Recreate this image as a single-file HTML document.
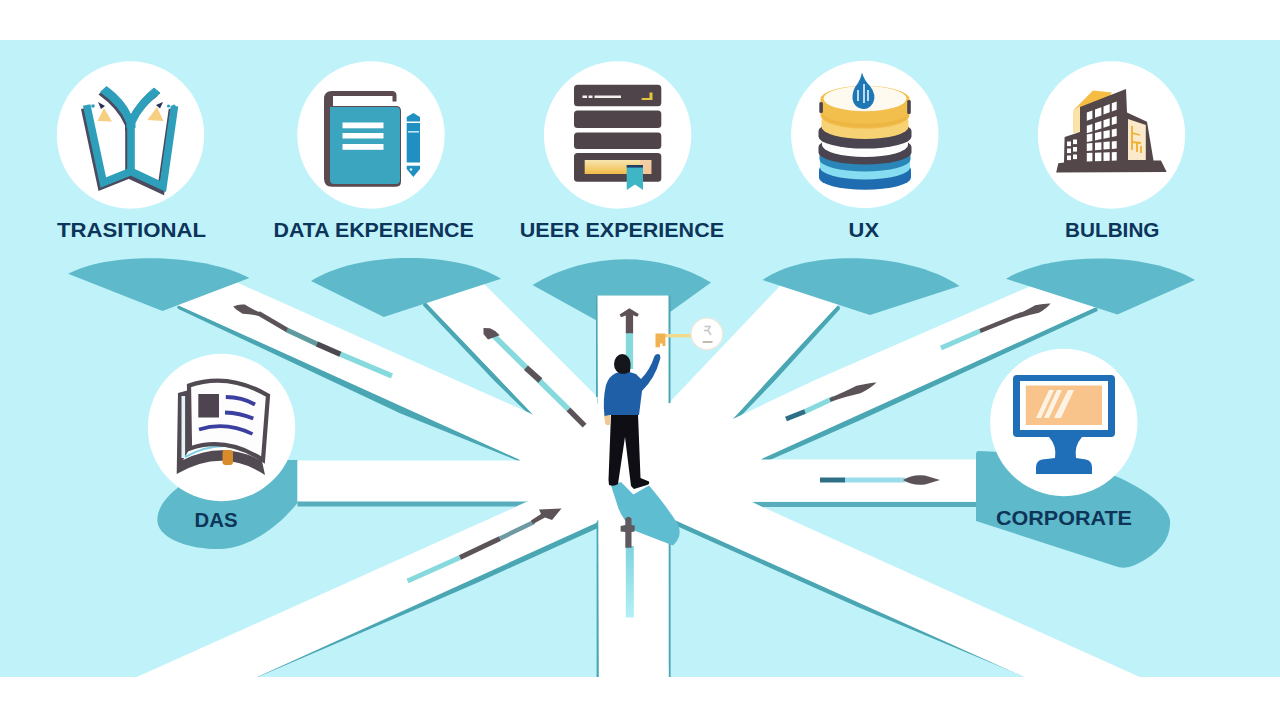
<!DOCTYPE html>
<html lang="en"><head><meta charset="utf-8"><title>Pathways</title>
<style>html,body{margin:0;padding:0;background:#fff;overflow:hidden}svg{display:block}</style></head>
<body>
<svg width="1280" height="720" viewBox="0 0 1280 720">
<rect x="0" y="0" width="1280" height="720" fill="#fff"/>
<rect x="0" y="40" width="1280" height="637" fill="#bff2f9"/>
<path d="M190,480 C168,492 156,508 157.5,522 C160,541 195,550 222,549 C255,546 281,523 297.5,503 L297.5,460 L250,460 Z" fill="#5ebaca"/>
<path d="M979,451 Q976,451 976,454 L976,521 L1115,566 Q1124,570 1135,565 Q1172,548 1170,520 Q1166,500 1120,478 L1100,470 L1000,452 Z" fill="#5ebaca"/>
<polygon points="178.8,305.5 176.8,307.5 179.0,309.3 400.0,413.2 521.0,462.0 519.5,458.0" fill="#49a6b2" />
<polygon points="426.0,302.5 423.5,303.2 423.0,305.5 494.5,381.0 531.5,417.0 534.0,415.0" fill="#49a6b2" />
<polygon points="837.5,305.5 839.5,306.5 840.0,309.0 775.0,380.5 735.0,422.0 732.0,417.0" fill="#49a6b2" />
<polygon points="1095.0,307.5 1097.5,308.5 1097.5,311.0 860.0,420.3 763.0,463.0 760.0,457.0" fill="#49a6b2" />
<polygon points="752.5,502.0 976.0,502.0 976.0,507.0 762.0,507.0" fill="#57adbb" />
<polygon points="297.5,501.0 528.0,501.0 516.0,506.5 297.5,506.5" fill="#57adbb" />
<polygon points="668.8,514.0 668.8,522.5 860.0,608.0 1022.5,676.0 1040.0,676.0" fill="#49a6b2" />
<polygon points="599.5,520.0 599.0,527.5 480.0,581.4 430.0,603.3 259.0,676.4 250.0,676.0" fill="#49a6b2" />
<polygon points="178.8,305.5 173.3,303.0 237.1,282.5 532.8,414.4 633.0,460.0 519.5,459.7" fill="#fff" />
<polygon points="426.0,302.5 421.8,298.2 481.8,281.7 597.3,397.0 633.0,460.0 532.8,414.4" fill="#fff" />
<polygon points="784.1,281.6 841.6,301.1 837.5,305.5 732.9,418.9 633.0,460.0 668.7,403.3" fill="#fff" />
<polygon points="1033.0,285.0 1100.5,305.0 1095.0,307.5 761.0,459.3 633.0,460.0 732.9,418.9 815.0,380.0" fill="#fff" />
<polygon points="976.0,459.5 976.0,501.7 751.4,501.7 633.0,460.0 761.0,459.5" fill="#fff" />
<polygon points="752.5,502.5 1142.0,678.0 1026.5,678.0 668.8,517.5 633.0,460.0" fill="#fff" />
<polygon points="527.6,501.7 134.5,678.0 255.0,678.0 599.5,521.5 633.0,460.0" fill="#fff" />
<polygon points="297.5,460.5 517.5,460.5 633.0,460.0 526.0,501.5 297.5,501.5" fill="#fff" />
<polygon points="532.8,414.4 597.3,397.0 668.7,403.3 732.9,418.9 761.0,459.3 751.4,502.0 668.8,518.0 599.5,521.5 527.6,501.7 519.5,459.7" fill="#fff" />
<path d="M68.1,273.8 C111.6,250.4 205.9,254.5 249.4,277.9 L162.5,311.0 Z" fill="#5ebaca"/>
<path d="M311.0,281.0 C356.6,251.8 455.4,249.6 501.0,278.8 L383.8,317.0 Z" fill="#5ebaca"/>
<path d="M532.5,285 C586,252.4 657.5,250 711,282.5 L668.75,313 L668.75,330 L597.5,330 L597.5,321 Z" fill="#5ebaca"/>
<path d="M762.5,280.0 C809.8,247.3 912.2,253.3 959.5,286.0 L870.0,315.0 Z" fill="#5ebaca"/>
<path d="M1006.0,278.8 C1051.4,250.9 1149.6,252.2 1195.0,280.0 L1117.5,314.5 Z" fill="#5ebaca"/>
<rect x="596" y="295.5" width="74.5" height="108" fill="#49a6b2"/>
<rect x="596.6" y="520" width="74" height="157" fill="#49a6b2"/>
<polygon points="597.5,295.5 668.5,295.5 668.8,678.0 598.8,678.0" fill="#fff" />
<polygon points="590.0,397.0 597.5,397.0 597.5,521.5 590.0,521.5" fill="#fff" />
<polygon points="668.5,403.3 675.0,403.3 675.0,518.0 668.5,518.0" fill="#fff" />
<line x1="340.0" y1="354.0" x2="392.0" y2="376.0" stroke="#86d9dd" stroke-width="5.2" stroke-linecap="butt"/>
<line x1="258.5" y1="313.3" x2="288.0" y2="330.5" stroke="#5c5359" stroke-width="4.8" stroke-linecap="butt"/>
<line x1="287.0" y1="330.0" x2="317.5" y2="344.2" stroke="#5f9a9e" stroke-width="5.0" stroke-linecap="butt"/>
<line x1="317.0" y1="344.0" x2="340.3" y2="354.2" stroke="#4c4a50" stroke-width="5.4" stroke-linecap="butt"/>
<path d="M260.5,312.5 Q251.4,309.0 244.8,304.6 Q238.4,303.9 233.3,306.4 Q235.9,309.5 242.7,313.8 Q249.9,314.0 259.5,315.9 Z" fill="#5c5359"/>
<line x1="494.0" y1="336.0" x2="568.4" y2="409.3" stroke="#86d9dd" stroke-width="5.6" stroke-linecap="butt"/>
<line x1="526.0" y1="367.8" x2="540.4" y2="380.4" stroke="#5c5359" stroke-width="6.0" stroke-linecap="butt"/>
<line x1="568.4" y1="409.3" x2="584.6" y2="425.6" stroke="#5c5359" stroke-width="5.4" stroke-linecap="butt"/>
<path d="M483.5,328 L490,328.3 Q496,330.5 499.7,335.3 L488,339.5 L483.5,334 Z" fill="#5c5359"/>
<rect x="625.8" y="333" width="7.3" height="36" fill="#86d9dd"/>
<polygon points="629.4,308.3 638.8,314 637.4,316.8 633.1,315.2 633.1,333.3 625.8,333.3 625.8,315.4 621,317.2 619.6,314.6" fill="#5f5257"/>
<line x1="980.0" y1="331.0" x2="941.0" y2="348.0" stroke="#86d9dd" stroke-width="5.0" stroke-linecap="butt"/>
<line x1="1022.0" y1="314.0" x2="980.0" y2="331.0" stroke="#5c5359" stroke-width="4.2" stroke-linecap="butt"/>
<path d="M1016.7,318.7 Q1029.0,314.7 1039.0,312.7 Q1046.5,308.7 1050.5,303.5 Q1045.6,303.3 1035.2,305.2 Q1027.1,309.9 1015.3,315.3 Z" fill="#5c5359"/>
<line x1="834.0" y1="398.0" x2="805.0" y2="411.5" stroke="#86d9dd" stroke-width="5.0" stroke-linecap="butt"/>
<line x1="805.0" y1="411.5" x2="786.0" y2="419.0" stroke="#2f6f86" stroke-width="5.0" stroke-linecap="butt"/>
<path d="M830.6,401.7 Q847.2,396.3 860.4,393.3 Q870.7,388.3 876.5,382.5 Q870.2,382.7 856.5,385.8 Q845.4,391.4 829.4,398.3 Z" fill="#5c5359"/>
<line x1="845.0" y1="480.0" x2="905.0" y2="480.0" stroke="#9adcea" stroke-width="5.0" stroke-linecap="butt"/>
<line x1="820.0" y1="480.0" x2="845.0" y2="480.0" stroke="#2f6f86" stroke-width="5.0" stroke-linecap="butt"/>
<path d="M903,480 Q912,474 925,475.5 L940,480 L925,484.5 Q912,486 903,480 Z" fill="#5c5359"/>
<line x1="460.0" y1="557.5" x2="407.5" y2="581.0" stroke="#86d9dd" stroke-width="5.0" stroke-linecap="butt"/>
<line x1="500.0" y1="538.5" x2="460.0" y2="557.5" stroke="#5c5359" stroke-width="5.0" stroke-linecap="butt"/>
<line x1="534.0" y1="522.0" x2="500.0" y2="538.5" stroke="#6f9aa3" stroke-width="4.5" stroke-linecap="butt"/>
<polygon points="561.5,508.5 552,520 545,517.5 533,524 531,520.5 541,514 539,509.5" fill="#5c5359"/>
<path d="M611,485.5 L621,482 L633.3,494.5 L649,485.5 Q668,508 678,524.5 Q683,536 673,545.5 L635.5,531 Q622,520 617.8,506.5 Z" fill="#5fbdd2"/>
<defs><linearGradient id="gs" x1="0" y1="0" x2="0" y2="1"><stop offset="0" stop-color="#7fd3df"/><stop offset="1" stop-color="#b4f0f6"/></linearGradient></defs><rect x="625.8" y="546" width="8" height="71.5" fill="url(#gs)"/>
<path d="M625.3,518.5 Q628.4,515 631.5,518.5 L631.5,525 L634.7,525.5 L634.7,531.5 L631.5,532 L631.5,547.8 L625.3,547.8 L625.3,532 L620.6,531.5 L620.6,526 L625.3,525 Z" fill="#5f5960"/>
<circle cx="130.5" cy="135.0" r="73.7" fill="#fff"/>
<circle cx="371.0" cy="135.0" r="73.7" fill="#fff"/>
<circle cx="617.6" cy="135.0" r="73.7" fill="#fff"/>
<circle cx="864.8" cy="134.5" r="73.7" fill="#fff"/>
<circle cx="1111.5" cy="135.0" r="73.7" fill="#fff"/>
<circle cx="221.5" cy="427.5" r="73.7" fill="#fff"/>
<circle cx="1063.8" cy="422.5" r="73.7" fill="#fff"/>
<path d="M86.7,105 L103.3,182.5 L131,171.5 L163,186.5 L174.5,106 M131,169 L131,123" fill="none" stroke="#4b4a5e" stroke-width="7.6" stroke-linejoin="miter" transform="translate(-2,3.2)"/>
<path d="M127,128 L127,123 Q120,106 100.5,92 L106.5,86.5 Q124,99 131,115 Q139,100 154,88 L160,93 Q142,107 135,123 L135,128 Z" fill="#4b4a5e" transform="translate(-2,2.6)"/>
<path d="M86.7,105 L103.3,182.5 L131,171.5 L163,186.5 L174.5,106 M131,169 L131,123" fill="none" stroke="#2e9fba" stroke-width="7.6" stroke-linejoin="miter"/>
<path d="M127,128 L127,123 Q120,106 100.5,92 L106.5,86.5 Q124,99 131,115 Q139,100 154,88 L160,93 Q142,107 135,123 L135,128 Z" fill="#2e9fba" stroke="#2e9fba" stroke-width="1"/>
<polygon points="104,108 112,121.5 97.5,121" fill="#f6cf80"/>
<polygon points="157,107 163.5,121 147.5,120" fill="#f6cf80"/>
<circle cx="93" cy="106" r="1.8" fill="#2e9fba"/><circle cx="168.5" cy="106" r="1.6" fill="#2e9fba"/><circle cx="174" cy="106" r="1.6" fill="#2e9fba"/>
<polygon points="98,102 105,106 101,109" fill="#2a2f55"/><polygon points="163,102 156,105 160,108.5" fill="#2a2f55"/>
<path d="M332,91 L392,91 Q396.5,91 396.5,95.5 L396.5,101.5 L392.5,101.5 L392.5,96 L333,96 L333,106 L396,106 Q401,106 401,111 L401,181.5 Q401,186.7 396,186.7 L332,186.7 Q324,186.7 324,178.5 L324,99 Q324,91 332,91 Z" fill="#5b4a50"/>
<path d="M330,107 L396,107 Q400,107 400,111 L400,180 Q400,184 396,184 L334,184 Q330,184 330,180 Z" fill="#3ba4be"/>
<rect x="342.5" y="122.5" width="41" height="5.8" fill="#fff"/>
<rect x="342.5" y="133.0" width="41" height="5.5" fill="#fff"/>
<rect x="342.5" y="144.0" width="41" height="5.8" fill="#fff"/>
<path d="M406.7,121.5 L406.7,117 L413.3,113 L420,117 L420,121.5 Z" fill="#2090c2"/>
<rect x="406.7" y="123" width="13.3" height="39.5" fill="#2090c2"/>
<rect x="408" y="131" width="11" height="1.6" fill="#bfe6f3"/>
<path d="M406.7,165.8 L420,165.8 L420,169 L413.3,177 L406.7,169 Z" fill="#2090c2"/>
<circle cx="411" cy="169.5" r="1.3" fill="#d8f0f8"/>
<rect x="574" y="84.7" width="87.3" height="21.6" rx="3.5" fill="#4e4449"/>
<rect x="574" y="110.5" width="87.3" height="17.5" rx="3.5" fill="#4e4449"/>
<rect x="574" y="132.5" width="87.3" height="16.5" rx="3.5" fill="#4e4449"/>
<rect x="574" y="153.0" width="87.3" height="28.7" rx="3.5" fill="#4e4449"/>
<line x1="582.5" y1="96.7" x2="621" y2="96.7" stroke="#f4f0ee" stroke-width="2.4" stroke-dasharray="4.5,1.5,4,2,30,0"/>
<path d="M641.7,98 L649.5,98 L649.5,92.5 L652.5,92.5 L652.5,100 L641.7,100 Z" fill="#e8c63c"/>
<defs><linearGradient id="gy" x1="0" y1="0" x2="0" y2="1"><stop offset="0" stop-color="#f7e6b0"/><stop offset="1" stop-color="#f2bb48"/></linearGradient></defs>
<rect x="584.7" y="160" width="66.6" height="14" fill="url(#gy)"/>
<rect x="640" y="160" width="11.3" height="14" fill="#f3c9a8" opacity=".8"/>
<path d="M626.7,165 L643,165 L643,190 L635,184.5 L626.7,190 Z" fill="#3fb6c6"/>
<rect x="626.7" y="165" width="16.3" height="2.6" fill="#1f3f6a"/>
<path d="M819.0,170.0 A46.0,12.0 0 0 1 911.0,170.0 L911.0,177.7 A46.0,12.0 0 0 1 819.0,177.7 Z" fill="#1f6db0"/>
<path d="M820.0,162.0 A45.0,12.0 0 0 1 910.0,162.0 L910.0,167.4 A45.0,12.0 0 0 1 820.0,167.4 Z" fill="#86dcf0"/>
<path d="M819.5,156.0 A45.5,12.0 0 0 1 910.5,156.0 L910.5,159.5 A45.5,12.0 0 0 1 819.5,159.5 Z" fill="#2a86b8"/>
<path d="M818.5,147.0 A46.5,12.0 0 0 1 911.5,147.0 L911.5,152.4 A46.5,12.0 0 0 1 818.5,152.4 Z" fill="#4a4350"/>
<path d="M822.0,138.0 A43.0,12.0 0 0 1 908.0,138.0 L908.0,145.0 A43.0,12.0 0 0 1 822.0,145.0 Z" fill="#fdfdfd"/>
<path d="M818.5,131.0 A46.5,12.0 0 0 1 911.5,131.0 L911.5,136.6 A46.5,12.0 0 0 1 818.5,136.6 Z" fill="#4a4350"/>
<path d="M821.5,121.0 A43.5,12.0 0 0 1 908.5,121.0 L908.5,127.0 A43.5,12.0 0 0 1 821.5,127.0 Z" fill="#f7d274"/>
<path d="M820.5,99.2 A44.5,13.5 0 0 1 909.5,99.2 L909.5,115.3 A44.5,13.5 0 0 1 820.5,115.3 Z" fill="#f2be4c"/>
<path d="M821.5,112 A43.5,12 0 0 0 908.5,112 L908.5,115 A43.5,12.5 0 0 1 821.5,115 Z" fill="#e9ae3a" opacity=".55"/>
<ellipse cx="865" cy="98.6" rx="41.5" ry="12.6" fill="#fffaf0"/>
<rect x="819.3" y="102" width="3.6" height="11" rx="1.5" fill="#4a4350"/><rect x="907.2" y="100" width="3.6" height="14" rx="1.5" fill="#4a4350"/>
<path d="M862,72.5 Q864,80 870,86 Q877,95 873,103 Q869,109.5 863,109 Q854,108 852.5,99 Q852,90 858,83 Q861,78 862,72.5 Z" fill="#1f78b6"/>
<path d="M858,90 L858,101 M864,84 L864,103 M868,90 L868,101" stroke="#e6f3fb" stroke-width="1.6" fill="none"/>
<polygon points="1073,133 1073.6,110 1093,90.4 1112,92.5 1100,112" fill="#f6bd45"/>
<polygon points="1073,133 1073.6,110 1080,106 1080,133" fill="#fae3a8"/>
<polygon points="1056.2,172.4 1058.3,163.3 1064,162.5 1064.6,137 1080,132 1080,107 1126,89 1127,112.6 1147,121.7 1153.5,160.5 1161,160.5 1166.7,172" fill="#54474a"/>
<polygon points="1086.8,112.6 1092.4,110.5 1092.4,118.7 1086.8,120.8" fill="#fff"/>
<polygon points="1086.8,125.8 1092.4,124.0 1092.4,131.5 1086.8,133.3" fill="#fff"/>
<polygon points="1086.8,134.5 1092.4,133.4 1092.4,140.9 1086.8,142.0" fill="#fff"/>
<polygon points="1086.8,143.5 1092.4,143.0 1092.4,150.5 1086.8,151.0" fill="#fff"/>
<polygon points="1086.8,153.0 1092.4,152.8 1092.4,161.3 1086.8,161.5" fill="#fff"/>
<polygon points="1095.0,109.6 1101.4,107.2 1101.4,115.4 1095.0,117.8" fill="#fff"/>
<polygon points="1095.0,123.1 1101.4,121.0 1101.4,128.5 1095.0,130.6" fill="#fff"/>
<polygon points="1095.0,132.9 1101.4,131.6 1101.4,139.1 1095.0,140.4" fill="#fff"/>
<polygon points="1095.0,142.8 1101.4,142.3 1101.4,149.8 1095.0,150.3" fill="#fff"/>
<polygon points="1095.0,152.7 1101.4,152.5 1101.4,161.0 1095.0,161.2" fill="#fff"/>
<polygon points="1103.5,106.4 1109.7,104.1 1109.7,112.3 1103.5,114.6" fill="#fff"/>
<polygon points="1103.5,120.3 1109.7,118.3 1109.7,125.8 1103.5,127.8" fill="#fff"/>
<polygon points="1103.5,131.2 1109.7,130.0 1109.7,137.5 1103.5,138.7" fill="#fff"/>
<polygon points="1103.5,142.1 1109.7,141.6 1109.7,149.1 1103.5,149.6" fill="#fff"/>
<polygon points="1103.5,152.4 1109.7,152.2 1109.7,160.7 1103.5,160.9" fill="#fff"/>
<polygon points="1111.8,103.3 1116.7,101.5 1116.7,109.7 1111.8,111.5" fill="#fff"/>
<polygon points="1111.8,117.6 1116.7,116.0 1116.7,123.5 1111.8,125.1" fill="#fff"/>
<polygon points="1111.8,129.6 1116.7,128.6 1116.7,136.1 1111.8,137.1" fill="#fff"/>
<polygon points="1111.8,141.4 1116.7,141.0 1116.7,148.5 1111.8,148.9" fill="#fff"/>
<polygon points="1111.8,152.2 1116.7,152.0 1116.7,160.5 1111.8,160.7" fill="#fff"/>
<polygon points="1128,119 1145.8,125 1145.8,160 1128,160" fill="#fbe9cc"/>
<path d="M1132,126 L1132,150 M1132,133 L1140,135 M1132,142 L1141,143 M1137,143 L1137,152 M1141,146 L1141,153" stroke="#f0b030" stroke-width="1.8" fill="none"/>
<rect x="1067.0" y="141.5" width="4" height="4.6" fill="#fff"/>
<rect x="1073.0" y="139.5" width="4" height="4.6" fill="#fff"/>
<rect x="1067.0" y="148.5" width="4" height="4.6" fill="#fff"/>
<rect x="1073.0" y="147.0" width="4" height="4.6" fill="#fff"/>
<rect x="1067.0" y="155.5" width="4" height="4.6" fill="#fff"/>
<rect x="1073.0" y="154.5" width="4" height="4.6" fill="#fff"/>
<path d="M178,393 L189,390 L189,450 L183,460 Q223,440 262,461 L265,475 Q223,447 176.7,474 Z" fill="#524a52"/>
<path d="M183.3,396 L183.3,458" stroke="#e4f3f6" stroke-width="3.6"/>
<path d="M185,457 Q223,436 262,455" stroke="#7fd0e2" stroke-width="2" fill="none"/>
<path d="M189,385.5 Q228,372 268,395.5 L263,460 Q226,436 190,448.5 Z" fill="#fdfdfd" stroke="#524a52" stroke-width="4.2" stroke-linejoin="miter"/>
<rect x="222.5" y="450" width="10.5" height="15" rx="3" fill="#d98a2b"/>
<rect x="198.3" y="394" width="20.7" height="23.5" fill="#4e4450"/>
<path d="M225.8,397 Q242,397 255,404.5" stroke="#3a3fa0" stroke-width="3.8" fill="none"/>
<path d="M225,412.5 Q240,413 253.3,418.5" stroke="#3a3fa0" stroke-width="3.8" fill="none"/>
<path d="M199,429.5 Q226,421 252.5,434" stroke="#3a3fa0" stroke-width="3.6" fill="none"/>
<rect x="1013" y="375" width="102" height="62" rx="4" fill="#1f6fb8"/>
<rect x="1020" y="381" width="88" height="49" fill="#fff"/>
<rect x="1025.8" y="385.5" width="76.2" height="39.5" fill="#f8c48c"/>
<polygon points="1049,390 1054,390 1041,418 1036,418" fill="#fdf3e4"/><polygon points="1057,390 1062,390 1049,418 1044,418" fill="#fdf3e4"/><polygon points="1068,390 1074,390 1061,418 1054,418" fill="#fdf3e4"/>
<path d="M1049,437 L1082,437 Q1074,446 1076,458 L1086,459.5 Q1092,461 1092,467 L1092,474 L1036,474 L1036,467 Q1036,461 1042,459.5 L1055,458 Q1057,446 1049,437 Z" fill="#1f6fb8"/>
<rect x="664" y="334" width="28" height="3.4" fill="#f3d98c"/>
<path d="M655.5,333.5 L665.4,333.5 L665.4,346 L662.4,346 L662.4,343.5 L660,343.5 L660,347.3 L655.5,347.3 Z" fill="#f0b250"/>
<circle cx="706.9" cy="333.9" r="15.8" fill="#fff" stroke="#eee9dc" stroke-width="1.4"/>
<path d="M704.5,326.5 L710,326.5 L708,330.5 L711,335 M704,330.5 L708,330.5" stroke="#c4c6c8" stroke-width="1.5" fill="none"/>
<rect x="702.7" y="341" width="9.8" height="2" fill="#c2bcae"/>
<path d="M611,414 L638,414 L640.5,478 L649,481.5 Q650,484 647,485 L634,489 L631,486 L625,437 L618,484 Q614,487 609,485 L608.5,480 Z" fill="#0e0e14"/>
<path d="M604,414 L610,414 L610.5,424 Q607,427 605,423 Z" fill="#f0c896"/>
<path d="M616,373 Q626,370 636,374 L641,379 Q650,370 654.5,356 Q657,352.5 660,355 Q661,358 659.5,361 Q655,378 642,391 L639,415 L609.5,415 L604.5,416 Q602.5,400 606,385 Q609,376 616,373 Z" fill="#1f5fa8"/>
<ellipse cx="622.3" cy="364" rx="8.3" ry="10" fill="#15151c"/>
<path d="M624,356 Q632,360 630,372 L624,374 Z" fill="#15151c"/>
<g font-family="'Liberation Sans', sans-serif" font-weight="bold" fill="#0d3459">
<text x="57.0" y="236.7" textLength="149.0" lengthAdjust="spacingAndGlyphs" font-size="21.0">TRASITIONAL</text>
<text x="273.6" y="236.7" textLength="200.2" lengthAdjust="spacingAndGlyphs" font-size="21.0">DATA EKPERIENCE</text>
<text x="519.8" y="236.7" textLength="204.2" lengthAdjust="spacingAndGlyphs" font-size="21.0">UEER EXPERIENCE</text>
<text x="848.6" y="236.7" textLength="30.4" lengthAdjust="spacingAndGlyphs" font-size="21.0">UX</text>
<text x="1065.0" y="236.8" textLength="94.5" lengthAdjust="spacingAndGlyphs" font-size="20.0">BULBING</text>
<text x="194.5" y="527.0" textLength="43.0" lengthAdjust="spacingAndGlyphs" font-size="20.3">DAS</text>
<text x="996.0" y="525.0" textLength="136.0" lengthAdjust="spacingAndGlyphs" font-size="20.0">CORPORATE</text>
</g>

</svg>
</body></html>
